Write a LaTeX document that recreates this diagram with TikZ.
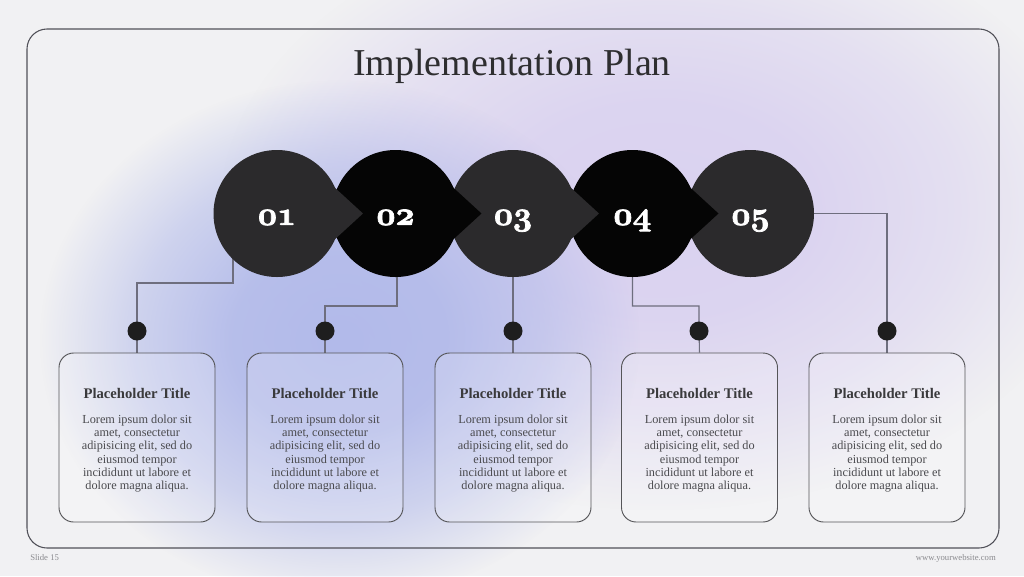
\documentclass[tikz,border=0pt]{standalone}
\usepackage{fontspec}
\setmainfont{Liberation Serif}
\usetikzlibrary{fadings,calc}
\pgfdeclarelayer{bg}
\pgfdeclarelayer{conn}
\pgfsetlayers{bg,conn,main}
\definecolor{bgc}{HTML}{F1F1F3}
\definecolor{lav}{HTML}{DAD2F0}
\definecolor{blu}{HTML}{B2BAEA}
\definecolor{framec}{HTML}{505058}
\definecolor{titlec}{HTML}{2E2E30}
\definecolor{oddc}{HTML}{2B2A2C}
\definecolor{evenc}{HTML}{050505}
\definecolor{linec}{HTML}{6E6E7E}
\definecolor{boxc}{HTML}{555558}
\definecolor{btitle}{HTML}{3A3A3C}
\definecolor{btext}{HTML}{4A4A4E}
\definecolor{footc}{HTML}{8A8A8E}
\pgfdeclareradialshading{softsh}{\pgfpointorigin}{color(0bp)=(pgftransparent!0); color(9bp)=(pgftransparent!8); color(17bp)=(pgftransparent!45); color(25bp)=(pgftransparent!100); color(50bp)=(pgftransparent!100)}
\pgfdeclarefading{softfade}{\pgfuseshading{softsh}}
\newcommand{\osn}[1]{\special{pdf:literal direct 2 Tr 0.55 w 1 1 1 RG}{\usefont{OML}{cmm}{b}{it}#1}\special{pdf:literal direct 0 Tr}}
\tikzset{
  numc/.style={circle, minimum size=95.25pt, inner sep=0pt, text=white,
    font=\fontsize{24.5}{24.5}\selectfont, text height=17pt, text depth=0pt},
  dotn/.style={circle, fill=evenc!90!white, minimum size=14.25pt, inner sep=0pt},
  boxn/.style={rectangle, rounded corners=11pt, minimum width=117pt, minimum height=126.75pt,
    draw=boxc, line width=0.7pt, fill=white, fill opacity=0.18, inner sep=0pt},
  btit/.style={text=btitle, font=\bfseries\fontsize{11}{12}\selectfont, anchor=base},
  bbody/.style={text=btext, font=\fontsize{9.2}{9.9}\selectfont, align=center, inner sep=0pt},
  connl/.style={draw=linec, line width=0.8pt},
  foot/.style={text=footc, font=\fontsize{6.5}{7}\selectfont, inner sep=0pt}
}
\newcommand{\lorem}{Lorem ipsum dolor sit\\amet, consectetur\\adipisicing elit, sed do\\eiusmod tempor\\incididunt ut labore et\\dolore magna aliqua.}
\begin{document}
\begin{tikzpicture}[x=0.75pt,y=-0.75pt]
\useasboundingbox (0,0) rectangle (1024,576);
\begin{pgfonlayer}{bg}
\fill[bgc] (0,0) rectangle (1024,576);
\fill[lav, path fading=softfade] (660,210) ellipse (440 and 300);
\fill[blu, path fading=softfade] (340,340) ellipse (300 and 260);
\draw[framec, line width=0.8pt, rounded corners=15pt] (27,29) rectangle (999,548);
\end{pgfonlayer}

\node[text=titlec, font=\fontsize{28.5}{32}\selectfont, anchor=base, inner sep=0pt] (title) at (512,75) {Implementation Plan};

% circle centres
\coordinate (k1) at (277,213.5);
\coordinate (k2) at (395.5,213.5);
\coordinate (k3) at (513,213.5);
\coordinate (k4) at (632.5,213.5);
\coordinate (k5) at (750.5,213.5);

\node[numc, fill=oddc] (c5) at (k5) {\osn{05}};
\fill[evenc] ($(k4)+(-33:60)$) -- ($(k4)+(86,0)$) -- ($(k4)+(33:60)$) -- cycle;
\node[numc, fill=evenc] (c4) at (k4) {\osn{04}};
\fill[oddc] ($(k3)+(-33:60)$) -- ($(k3)+(86,0)$) -- ($(k3)+(33:60)$) -- cycle;
\node[numc, fill=oddc] (c3) at (k3) {\osn{03}};
\fill[evenc] ($(k2)+(-33:60)$) -- ($(k2)+(86,0)$) -- ($(k2)+(33:60)$) -- cycle;
\node[numc, fill=evenc] (c2) at (k2) {\osn{02}};
\fill[oddc] ($(k1)+(-33:60)$) -- ($(k1)+(86,0)$) -- ($(k1)+(33:60)$) -- cycle;
\node[numc, fill=oddc] (c1) at (k1) {\osn{01}};

% dots
\node[dotn] (d1) at (137,331) {};
\node[dotn] (d2) at (325,331) {};
\node[dotn] (d3) at (513,331) {};
\node[dotn] (d4) at (699,331) {};
\node[dotn] (d5) at (887,331) {};

% boxes
\foreach \i/\x in {1/137,2/325,3/513,4/699.5,5/887}{
  \node[boxn] (b\i) at (\x,437.5) {};
  \node[btit] (t\i) at (\x,398.5) {Placeholder Title};
  \node[bbody] (x\i) at (\x,453.5) {\lorem};
}

% connectors
\begin{pgfonlayer}{conn}
\draw[connl] ($(c1.center)+(-44,0)$) |- ($(d1.center)+(0,-48)$) -- (d1.center) -- (b1.north);
\draw[connl] ($(c2.center)+(1.5,0)$) |- ($(d2.center)+(0,-25)$) -- (d2.center) -- (b2.north);
\draw[connl] (c3.center) -- (d3.center) -- (b3.north);
\draw[connl] (c4.center) |- ($(d4.center)+(0,-25)$) -- (d4.center) -- (b4.north);
\draw[connl] (c5.center) -| (d5.center) -- (b5.north);
\end{pgfonlayer}

% footer
\node[foot, anchor=west] (slide) at (30,558) {Slide 15};
\node[foot, anchor=east] (web) at (996,558) {www.yourwebsite.com};
\end{tikzpicture}
\end{document}
